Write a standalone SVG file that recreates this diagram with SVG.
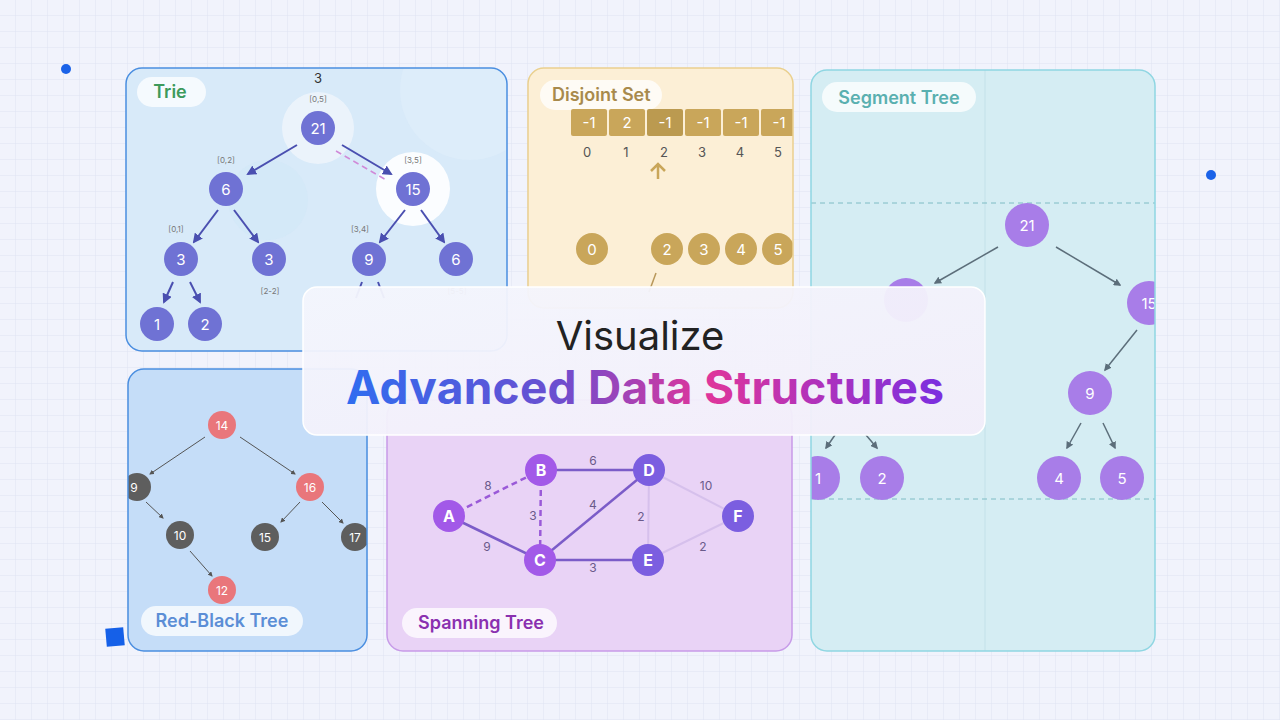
<svg xmlns="http://www.w3.org/2000/svg" width="1280" height="720" viewBox="0 0 1280 720">
<defs>
<pattern id="grid" width="16" height="16" patternUnits="userSpaceOnUse"><path d="M16 0V16H0" fill="none" stroke="#dfe3f3" stroke-width="1"/></pattern>
<linearGradient id="tg" x1="0" x2="1"><stop offset="0" stop-color="#2f6df0"/><stop offset="0.35" stop-color="#6a4ed0"/><stop offset="0.6" stop-color="#e0359a"/><stop offset="1" stop-color="#7a2fe0"/></linearGradient>
<linearGradient id="bn" x1="0" y1="0" x2="1" y2="1"><stop offset="0" stop-color="#f4f6fd" stop-opacity="0.95"/><stop offset="1" stop-color="#f3eefa" stop-opacity="0.95"/></linearGradient>
<marker id="ah" viewBox="0 0 10 10" refX="8" refY="5" markerWidth="5" markerHeight="5" orient="auto"><path d="M0 0L10 5L0 10z" fill="#4a4fb0"/></marker>
<marker id="ag" viewBox="0 0 10 10" refX="8" refY="5" markerWidth="5" markerHeight="5" orient="auto"><path d="M0 0L10 5L0 10z" fill="#555"/></marker>
<marker id="as" viewBox="0 0 10 10" refX="8" refY="5" markerWidth="5" markerHeight="5" orient="auto"><path d="M0 0L10 5L0 10z" fill="#5c6e7a"/></marker>
<clipPath id="cT"><rect x="126" y="68" width="381" height="283" rx="16"/></clipPath>
<clipPath id="cD"><rect x="528" y="68" width="265" height="240" rx="16"/></clipPath>
<clipPath id="cS"><rect x="811" y="70" width="344" height="581" rx="16"/></clipPath>
<clipPath id="cR"><rect x="128" y="369" width="239" height="282" rx="16"/></clipPath>
<clipPath id="cP"><rect x="387" y="400" width="405" height="251" rx="16"/></clipPath>
</defs>
<style>
text{font-family:Inter,"Liberation Sans",sans-serif}
.nt{fill:#fff;font-size:15px;text-anchor:middle;dominant-baseline:central}
.tn{fill:#6f72d4}
.rng{fill:#777;font-size:8px;text-anchor:middle}
.ta{stroke:#4a4fb0;stroke-width:2;marker-end:url(#ah)}
.ga{stroke:#555;stroke-width:1;marker-end:url(#ag)}
.sa{stroke:#5c6e7a;stroke-width:1.5;marker-end:url(#as)}
.lbl{font-size:18px;font-weight:600}
.pill{fill:#fff;fill-opacity:0.75}
.gold{fill:#c9a65a}
.sn{fill:#a87de8}
.st{fill:#fff;font-size:16px;font-weight:700;text-anchor:middle;dominant-baseline:central}
.ew{font-size:12px;fill:#6a5a8a;text-anchor:middle}
</style>
<rect width="1280" height="720" fill="#f1f3fc"/>
<rect width="1280" height="720" fill="url(#grid)"/>
<circle cx="66" cy="69" r="5" fill="#1a62e8"/>
<circle cx="1211" cy="175" r="5" fill="#1a62e8"/>
<rect x="106" y="628" width="18" height="18" fill="#1560e8" transform="rotate(-5 115 637)"/>

<g id="trie" clip-path="url(#cT)">
<rect x="126" y="68" width="381" height="283" rx="16" fill="#d8eaf9"/>
<circle cx="470" cy="90" r="70" fill="#e2f0fb" opacity="0.5"/>
<circle cx="268" cy="200" r="40" fill="#cfe8f8" opacity="0.5"/>
<rect class="pill" x="137" y="77" width="69" height="30" rx="15"/>
<text x="170" y="98" class="lbl" fill="#3d9a5c" text-anchor="middle">Trie</text>
<text x="318" y="83" font-size="13" fill="#333" text-anchor="middle">3</text>
<circle cx="318" cy="128" r="36" fill="#eef4fc" opacity="0.85"/>
<circle cx="413" cy="189" r="37" fill="#fff" opacity="0.9"/>
<text class="rng" x="318" y="102">[0,5]</text><text class="rng" x="226" y="163">[0,2]</text><text class="rng" x="413" y="163">[3,5]</text>
<text class="rng" x="176" y="232">[0,1]</text><text class="rng" x="360" y="232">[3,4]</text><text class="rng" x="270" y="294">[2-2]</text><text class="rng" x="457" y="294">[5-5]</text>
<line x1="336" y1="151" x2="388" y2="181" stroke="#d08ad8" stroke-width="1.5" stroke-dasharray="6,4"/>
<g fill="none">
<line class="ta" x1="297" y1="145" x2="248" y2="174"/><line class="ta" x1="342" y1="145" x2="391" y2="174"/>
<line class="ta" x1="218" y1="210" x2="194" y2="242"/><line class="ta" x1="234" y1="210" x2="258" y2="242"/>
<line class="ta" x1="405" y1="210" x2="380" y2="242"/><line class="ta" x1="421" y1="210" x2="444" y2="242"/>
<line class="ta" x1="173" y1="282" x2="164" y2="302"/><line class="ta" x1="190" y1="282" x2="200" y2="302"/>
<line x1="362" y1="282" x2="356" y2="298" stroke="#4a4fb0" stroke-width="2"/><line x1="378" y1="282" x2="384" y2="298" stroke="#4a4fb0" stroke-width="2"/>
</g>
<circle class="tn" cx="318" cy="128" r="17"/><text class="nt" x="318" y="128">21</text>
<circle class="tn" cx="226" cy="189" r="17"/><text class="nt" x="226" y="189">6</text>
<circle class="tn" cx="413" cy="189" r="17"/><text class="nt" x="413" y="189">15</text>
<circle class="tn" cx="181" cy="259" r="17"/><text class="nt" x="181" y="259">3</text>
<circle class="tn" cx="269" cy="259" r="17"/><text class="nt" x="269" y="259">3</text>
<circle class="tn" cx="369" cy="259" r="17"/><text class="nt" x="369" y="259">9</text>
<circle class="tn" cx="456" cy="259" r="17"/><text class="nt" x="456" y="259">6</text>
<circle class="tn" cx="157" cy="324" r="17"/><text class="nt" x="157" y="324">1</text>
<circle class="tn" cx="205" cy="324" r="17"/><text class="nt" x="205" y="324">2</text>
</g>
<rect x="126" y="68" width="381" height="283" rx="16" fill="none" stroke="#4a8ee0" stroke-width="1.5"/>

<g id="disjoint" clip-path="url(#cD)">
<rect x="528" y="68" width="265" height="240" rx="16" fill="#fcefd6"/>
<rect class="pill" x="540" y="80" width="122" height="30" rx="15"/>
<text x="552" y="101" class="lbl" fill="#a88a4c">Disjoint Set</text>
<g class="gold">
<rect x="571" y="109" width="36" height="27" rx="2"/><rect x="609" y="109" width="36" height="27" rx="2"/><rect x="647" y="109" width="36" height="27" rx="2" fill="#bb9a50"/><rect x="685" y="109" width="36" height="27" rx="2"/><rect x="723" y="109" width="36" height="27" rx="2"/><rect x="761" y="109" width="36" height="27" rx="2"/>
</g>
<g font-size="15" fill="#fff" text-anchor="middle"><text x="589" y="128">-1</text><text x="627" y="128">2</text><text x="665" y="128">-1</text><text x="703" y="128">-1</text><text x="741" y="128">-1</text><text x="779" y="128">-1</text></g>
<g font-size="13" fill="#555" text-anchor="middle"><text x="587" y="157">0</text><text x="626" y="157">1</text><text x="664" y="157">2</text><text x="702" y="157">3</text><text x="740" y="157">4</text><text x="778" y="157">5</text></g>
<path d="M658 179V164M651 171L658 164L665 171" stroke="#c9a65a" stroke-width="2.5" fill="none"/>
<circle class="gold" cx="592" cy="249" r="16"/><text class="nt" x="592" y="249" font-size="17">0</text>
<circle class="gold" cx="667" cy="249" r="16"/><text class="nt" x="667" y="249" font-size="17">2</text>
<circle class="gold" cx="704" cy="249" r="16"/><text class="nt" x="704" y="249" font-size="17">3</text>
<circle class="gold" cx="741" cy="249" r="16"/><text class="nt" x="741" y="249" font-size="17">4</text>
<circle class="gold" cx="778" cy="249" r="16"/><text class="nt" x="778" y="249" font-size="17">5</text>
<line x1="656" y1="273" x2="649" y2="292" stroke="#b8975a" stroke-width="1.5"/>
</g>
<rect x="528" y="68" width="265" height="240" rx="16" fill="none" stroke="#ead08e" stroke-width="1.5"/>

<g id="segment" clip-path="url(#cS)">
<rect x="811" y="70" width="344" height="581" rx="16" fill="#d5edf3"/>
<line x1="985" y1="70" x2="985" y2="651" stroke="#c8e4ec" stroke-width="1.5"/>
<rect class="pill" x="822" y="82" width="154" height="30" rx="15"/>
<text x="899" y="104" class="lbl" fill="#5ab0b0" text-anchor="middle">Segment Tree</text>
<line x1="811" y1="203" x2="1155" y2="203" stroke="#7fbcc4" stroke-dasharray="5,4"/>
<line x1="811" y1="499" x2="1155" y2="499" stroke="#7fbcc4" stroke-dasharray="5,4"/>
<g fill="none">
<line class="sa" x1="998" y1="247" x2="935" y2="283"/><line class="sa" x1="1056" y1="247" x2="1120" y2="285"/>
<line class="sa" x1="1137" y1="330" x2="1105" y2="370"/>
<line class="sa" x1="1081" y1="423" x2="1067" y2="448"/><line class="sa" x1="1103" y1="423" x2="1115" y2="448"/>
<line class="sa" x1="835" y1="435" x2="826" y2="448"/><line class="sa" x1="866" y1="435" x2="877" y2="448"/>
</g>
<circle class="sn" cx="1027" cy="225" r="22"/><text class="nt" x="1027" y="225" font-size="17">21</text>
<circle class="sn" cx="1149" cy="303" r="22"/><text class="nt" x="1149" y="303" font-size="17">15</text>
<circle class="sn" cx="906" cy="300" r="22"/>
<circle class="sn" cx="1090" cy="393" r="22"/><text class="nt" x="1090" y="393" font-size="17">9</text>
<circle class="sn" cx="818" cy="478" r="22"/><text class="nt" x="818" y="478" font-size="17">1</text>
<circle class="sn" cx="882" cy="478" r="22"/><text class="nt" x="882" y="478" font-size="17">2</text>
<circle class="sn" cx="1059" cy="478" r="22"/><text class="nt" x="1059" y="478" font-size="17">4</text>
<circle class="sn" cx="1122" cy="478" r="22"/><text class="nt" x="1122" y="478" font-size="17">5</text>
</g>
<rect x="811" y="70" width="344" height="581" rx="16" fill="none" stroke="#8fd6e2" stroke-width="1.5"/>

<g id="redblack" clip-path="url(#cR)">
<rect x="128" y="369" width="239" height="282" rx="16" fill="#c5ddf8"/>
<g fill="none">
<line class="ga" x1="205" y1="437" x2="150" y2="474"/><line class="ga" x1="240" y1="437" x2="295" y2="474"/>
<line class="ga" x1="146" y1="502" x2="163" y2="518"/>
<line class="ga" x1="300" y1="502" x2="281" y2="522"/><line class="ga" x1="322" y1="502" x2="343" y2="523"/>
<line class="ga" x1="190" y1="551" x2="212" y2="576"/>
</g>
<g font-size="12" text-anchor="middle" dominant-baseline="central" fill="#fff">
<circle cx="222" cy="425" r="14" fill="#e9767b"/><text x="222" y="425">14</text>
<circle cx="137" cy="487" r="14" fill="#5e5e5e"/><text x="134" y="487">9</text>
<circle cx="310" cy="487" r="14" fill="#e9767b"/><text x="310" y="487">16</text>
<circle cx="180" cy="535" r="14" fill="#5e5e5e"/><text x="180" y="535">10</text>
<circle cx="265" cy="537" r="14" fill="#5e5e5e"/><text x="265" y="537">15</text>
<circle cx="355" cy="537" r="14" fill="#5e5e5e"/><text x="355" y="537">17</text>
<circle cx="222" cy="590" r="14" fill="#e9767b"/><text x="222" y="590">12</text>
</g>
<rect class="pill" x="141" y="606" width="162" height="30" rx="15"/>
<text x="222" y="627" class="lbl" fill="#5b8ed6" text-anchor="middle">Red-Black Tree</text>
</g>
<rect x="128" y="369" width="239" height="282" rx="16" fill="none" stroke="#4a8ee0" stroke-width="1.5"/>

<g id="spanning" clip-path="url(#cP)">
<rect x="387" y="400" width="405" height="251" rx="16" fill="#e9d3f6"/>
<g fill="none" stroke-width="2.5">
<line x1="449" y1="516" x2="541" y2="470" stroke="#9a5ad8" stroke-dasharray="6,4"/>
<line x1="541" y1="470" x2="540" y2="560" stroke="#9a5ad8" stroke-dasharray="6,4"/>
<line x1="541" y1="470" x2="649" y2="470" stroke="#7b5cc8"/>
<line x1="449" y1="516" x2="540" y2="560" stroke="#7b5cc8"/>
<line x1="540" y1="560" x2="649" y2="470" stroke="#7b5cc8"/>
<line x1="540" y1="560" x2="648" y2="560" stroke="#7b5cc8"/>
<line x1="649" y1="470" x2="648" y2="560" stroke="#d6c0ec" stroke-width="2"/>
<line x1="649" y1="470" x2="738" y2="516" stroke="#d6c0ec" stroke-width="2"/>
<line x1="648" y1="560" x2="738" y2="516" stroke="#d6c0ec" stroke-width="2"/>
</g>
<text class="ew" x="488" y="490">8</text><text class="ew" x="593" y="465">6</text><text class="ew" x="533" y="520">3</text>
<text class="ew" x="593" y="509">4</text><text class="ew" x="487" y="551">9</text><text class="ew" x="593" y="572">3</text>
<text class="ew" x="641" y="521" fill="#c0a8dc">2</text><text class="ew" x="706" y="490" fill="#c0a8dc">10</text><text class="ew" x="703" y="551" fill="#c0a8dc">2</text>
<circle cx="449" cy="516" r="16" fill="#a259e8"/><text class="st" x="449" y="516">A</text>
<circle cx="541" cy="470" r="16" fill="#a259e8"/><text class="st" x="541" y="470">B</text>
<circle cx="540" cy="560" r="16" fill="#a259e8"/><text class="st" x="540" y="560">C</text>
<circle cx="649" cy="470" r="16" fill="#7b5ee0"/><text class="st" x="649" y="470">D</text>
<circle cx="648" cy="560" r="16" fill="#7b5ee0"/><text class="st" x="648" y="560">E</text>
<circle cx="738" cy="516" r="16" fill="#7b5ee0"/><text class="st" x="738" y="516">F</text>
<rect class="pill" x="402" y="608" width="155" height="30" rx="15"/>
<text x="481" y="629" class="lbl" fill="#8a30b0" text-anchor="middle">Spanning Tree</text>
</g>
<rect x="387" y="400" width="405" height="251" rx="16" fill="none" stroke="#c79be8" stroke-width="1.5"/>

<g id="banner">
<rect x="303" y="287" width="682" height="148" rx="14" fill="url(#bn)" stroke="#fff" stroke-width="1.5"/>
<text x="640" y="350" font-size="40" fill="#222" text-anchor="middle">Visualize</text>
<text x="645" y="404" font-size="46" font-weight="700" fill="url(#tg)" text-anchor="middle" textLength="598" lengthAdjust="spacing">Advanced Data Structures</text>
</g>
</svg>
